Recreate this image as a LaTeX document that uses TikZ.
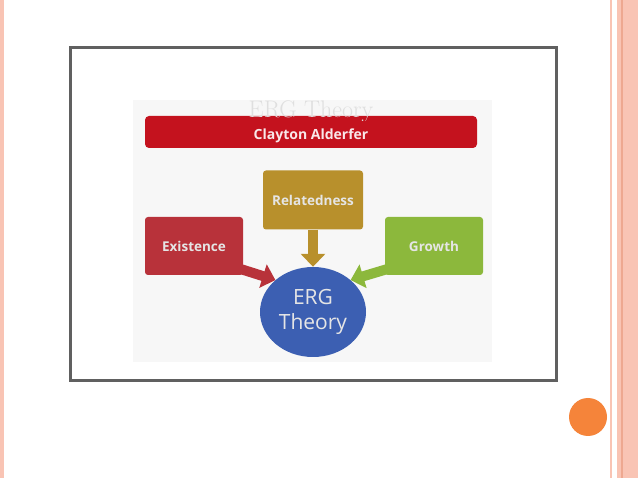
\documentclass[tikz,border=0pt]{standalone}
\usepackage{fontspec}
\setsansfont{Open Sans}
\usetikzlibrary{arrows.meta,shapes.geometric}
\definecolor{stripe}{HTML}{F9C4B4}
\definecolor{stripeD}{HTML}{EEA890}
\definecolor{frameg}{HTML}{606060}
\definecolor{bannerred}{HTML}{C4121E}
\definecolor{olive}{HTML}{B8902C}
\definecolor{exred}{HTML}{B8323A}
\definecolor{grgreen}{HTML}{8CB83C}
\definecolor{ergblue}{HTML}{3C5FB2}
\definecolor{dot}{HTML}{F5843A}
\tikzset{
  box/.style={rounded corners=3pt, text=white!90!black, font=\sffamily\bfseries\fontsize{13.5}{15}\selectfont, minimum width=98pt, minimum height=58pt, inner sep=0pt},
  blk/.style={line width=10pt, -{Triangle[length=13pt,width=24pt]}}
}
\begin{document}
\begin{tikzpicture}[x=1pt,y=-1pt]
\useasboundingbox (0,0) rectangle (638,478);
\fill[white] (0,0) rectangle (638,478);
% side stripes
\fill[stripe] (0,0) rectangle (4,478);
\fill[stripe] (610,0) rectangle (612,478);
\fill[stripe] (617,0) rectangle (638,478);
\fill[stripeD] (621,0) rectangle (623,478);
% frame
\draw[frameg, line width=3pt] (70,48) rectangle (556,381);
\fill[gray!6] (133,100) rectangle (492,362);
% banner
\node[fill=bannerred, rounded corners=4pt, minimum width=332pt, minimum height=32pt, inner sep=0pt] (banner) at (311,132) {};
\node[text=gray!25, font=\fontsize{24}{24}\selectfont] (title) at (311,112) {ERG Theory};
\fill[bannerred] (145,121) rectangle (477,126);
\node[text=white!90!bannerred, font=\sffamily\bfseries\fontsize{14}{16}\selectfont] (sub) at (311,136) {Clayton Alderfer};
% boxes
\node[box, fill=olive, minimum width=100pt, minimum height=59pt] (rel) at (313,200) {Relatedness};
\node[box, fill=exred] (exi) at (194,246) {Existence};
\node[box, fill=grgreen] (gro) at (434,246) {Growth};
\node[ellipse, fill=ergblue, minimum width=106pt, minimum height=90pt, inner sep=0pt, text=white!90!black, align=center, font=\sffamily\fontsize{21}{25}\selectfont] (erg) at (313,312) {ERG\\Theory};
% arrows
\draw[blk, olive] (rel.south) -- (erg.north);
\draw[blk, exred] (exi.south east) ++(-2,-6) coordinate (ea) -- (erg.north west);
\draw[blk, grgreen] (gro.south west) ++(2,-6) coordinate (ga) -- (erg.north east);
% dot
\fill[dot] (588,417) circle (19);
\end{tikzpicture}
\end{document}
